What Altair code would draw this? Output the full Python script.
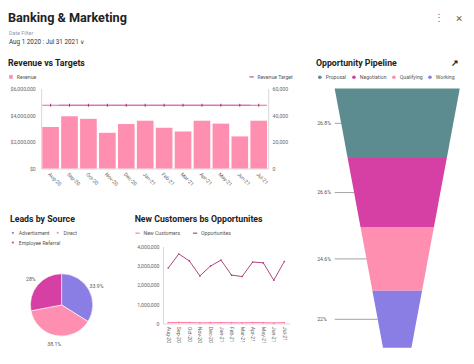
import altair as alt
import numpy as np
import pandas as pd

# ---------------- data ----------------
months = ["Aug-20", "Sep-20", "Oct-20", "Nov-20", "Dec-20", "Jan-21",
          "Feb-21", "Mar-21", "Apr-21", "May-21", "Jun-21", "Jul-21"]
revenue = [3120000, 3930000, 3730000, 2680000, 3340000, 3590000,
           3070000, 2780000, 3590000, 3370000, 2410000, 3590000]
revenue_target = [47500, 47500, 47500, 47500, 47500, 47500,
                  47500, 47500, 47500, 47500, 47500, 47500]
new_customers = [45000, 52000, 50000, 35000, 42000, 46000,
                 40000, 36000, 47000, 44000, 28000, 50000]
opportunities = [2880000, 3610000, 3250000, 2470000, 2980000, 3290000,
                 2510000, 2440000, 3190000, 3150000, 2250000, 3220000]
lead_sources = ["Advertisment", "Direct", "Employee Referral"]
lead_share = [33.9, 38.1, 28.0]
lead_labels = ["33.9%", "38.1%", "28%"]
stages = ["Proposal", "Negotiation", "Qualifying", "Working"]
stage_share = [26.8, 26.6, 24.6, 22.0]
stage_labels = ["26.8%", "26.6%", "24.6%", "22%"]

# ---------------- style ----------------
FONT = "Roboto"
PINK = "#ff8fb1"
TARGET = "#d86aa6"
TARGET_MARK = "#9c2d6a"
NC = "#ff7aa8"
OPP = "#b2407f"
PURPLE = "#8a7de3"
MAGENTA = "#d63fa3"
TEAL = "#5c8b90"
LBL = 5.3

# ---------------- header ----------------
hdr = pd.DataFrame({"k": [0]})


def htext(text, x, y, size, color, weight="normal", align="left", baseline="alphabetic"):
    return alt.Chart(hdr).mark_text(text=text, fontSize=size, color=color, fontWeight=weight,
                                    align=align, baseline=baseline).encode(
        x=alt.value(x), y=alt.value(y))


header = alt.layer(
    htext("Banking & Marketing", -34, -1, 13, "#222", "bold"),
    htext("Date Filter", -33, 12, 5.5, "#9a9a9a"),
    htext("Aug 1 2020 : Jul 31 2021 \u2228", -33, 21, 6.5, "#333"),
    htext("\u22ee", 408, -5, 10, "#666", align="center", baseline="middle"),
    htext("\u00d7", 429, -5, 12, "#666", align="center", baseline="middle"),
).properties(width=380, height=28)

# ---------------- revenue vs targets ----------------
rev_df = pd.DataFrame({"month": months, "revenue": revenue, "target": revenue_target})
rev_df["s_rev"] = "Revenue"
rev_df["s_tgt"] = "Revenue Target"

rev_scale = alt.Scale(paddingInner=0.12, paddingOuter=0.06)
rev_xaxis = alt.Axis(labelAngle=45, labelPadding=3)


def xrev(bp=None):
    if bp is None:
        return alt.X("month:N", sort=months, title=None, scale=rev_scale, axis=rev_xaxis)
    return alt.X("month:N", sort=months, title=None, scale=rev_scale, axis=rev_xaxis, bandPosition=bp)


tgt_y = alt.Y("target:Q", title=None, scale=alt.Scale(domain=[0, 60000]),
              axis=alt.Axis(orient="right", values=[0, 20000, 40000, 60000], format=",.0f"))
tgt_stroke = alt.Stroke("s_tgt:N", scale=alt.Scale(domain=["Revenue Target"], range=[TARGET]),
                        legend=alt.Legend(title=None, legendX=213, legendY=-15, symbolType="stroke",
                                          symbolStrokeWidth=1.5, symbolSize=20))

bars = alt.Chart(rev_df).mark_bar().encode(
    x=xrev(),
    y=alt.Y("revenue:Q", title=None, scale=alt.Scale(domain=[0, 6000000]),
            axis=alt.Axis(values=[0, 2000000, 4000000, 6000000], format="$,.0f", labelPadding=6)),
    fill=alt.Fill("s_rev:N", scale=alt.Scale(domain=["Revenue"], range=[PINK]),
                  legend=alt.Legend(title=None, legendX=-34, legendY=-15, symbolType="square",
                                    symbolSize=14)),
)
line0 = alt.Chart(rev_df).mark_line(strokeWidth=1).encode(x=xrev(0), y=tgt_y, stroke=tgt_stroke)
line1 = alt.Chart(rev_df).mark_line(strokeWidth=1).encode(x=xrev(1), y=tgt_y, stroke=tgt_stroke)
tmarks = alt.Chart(rev_df).mark_point(shape="M0,-1L0,1", size=9, strokeWidth=1, color=TARGET_MARK,
                                      filled=False, opacity=1).encode(x=xrev(0.5), y=tgt_y)

revenue_chart = alt.layer(bars, alt.layer(line0, line1, tmarks)).resolve_scale(
    y="independent").properties(width=233, height=82, title="Revenue vs Targets")

# ---------------- leads by source ----------------
pie_df = pd.DataFrame({"source": lead_sources, "share": lead_share, "label": lead_labels})
arc = alt.Chart(pie_df).mark_arc(outerRadius=32, stroke="white", strokeWidth=0.6).encode(
    theta=alt.Theta("share:Q", stack=True),
    color=alt.Color("source:N", scale=alt.Scale(domain=lead_sources, range=[PURPLE, PINK, MAGENTA]),
                    legend=alt.Legend(title=None, legendX=-32, legendY=-17, columns=2, gridAlign="none",
                                      direction="horizontal", symbolType="circle", rowPadding=0,
                                      columnPadding=-8)),
    order=alt.Order("source:N"),
)
ptxt = alt.Chart(pie_df).mark_text(radius=41, fontSize=LBL, color="#555").encode(
    theta=alt.Theta("share:Q", stack=True), text="label:N", order=alt.Order("source:N"))
pie_chart = alt.layer(arc, ptxt).properties(width=42, height=120, title="Leads by Source")

# ---------------- new customers vs opportunities ----------------
series = ["New Customers", "Opportunites"]
lc_df = pd.DataFrame({"month": months * 2,
                      "series": [series[0]] * len(months) + [series[1]] * len(months),
                      "value": new_customers + opportunities})
line_chart = alt.Chart(lc_df).mark_line(strokeWidth=1, point=alt.OverlayMarkDef(size=3, filled=True)).encode(
    x=alt.X("month:N", sort=months, title=None, scale=alt.Scale(padding=0.5),
            axis=alt.Axis(labelAngle=90, labelPadding=3)),
    y=alt.Y("value:Q", title=None, scale=alt.Scale(domain=[0, 4000000]),
            axis=alt.Axis(values=[0, 1000000, 2000000, 3000000, 4000000], format=",.0f")),
    color=alt.Color("series:N", scale=alt.Scale(domain=series, range=[NC, OPP]),
                    legend=alt.Legend(title=None, legendX=-29, legendY=-17, direction="horizontal",
                                      symbolType="stroke", symbolStrokeWidth=1.2, symbolSize=20)),
).properties(width=130, height=79, title="New Customers bs Opportunites")

# ---------------- opportunity pipeline (funnel) ----------------
cum = np.concatenate([[0.0], np.cumsum(stage_share)])
total = float(cum[-1])
NECK = 0.227


def halfw(c):
    return 1 - (1 - NECK) * c / total


rows = []
for i, s in enumerate(stages):
    for c in (cum[i], cum[i + 1]):
        rows.append({"stage": s, "c": float(c), "lo": -halfw(c), "hi": halfw(c)})
fun_df = pd.DataFrame(rows)
lab_df = pd.DataFrame({"stage": stages, "label": stage_labels, "mid": (cum[:-1] + cum[1:]) / 2})
lab_df["edge"] = -halfw(lab_df["mid"])
lab_df["lx"] = -1.28
lab_df["rx"] = -1.0

fx = alt.Scale(domain=[-1.3, 1.1])
fy = alt.Scale(domain=[0, total], reverse=True)
farea = alt.Chart(fun_df).mark_area(orient="horizontal").encode(
    y=alt.Y("c:Q", scale=fy, axis=None),
    x=alt.X("lo:Q", scale=fx, axis=None),
    x2="hi:Q",
    color=alt.Color("stage:N", scale=alt.Scale(domain=stages, range=[TEAL, MAGENTA, PINK, PURPLE]),
                    legend=alt.Legend(title=None, legendX=1, legendY=-15, direction="horizontal",
                                      symbolType="circle", columnPadding=4)),
)
frules = alt.Chart(lab_df).mark_rule(color="#888", strokeWidth=0.8).encode(
    y=alt.Y("mid:Q", scale=fy, axis=None), x=alt.X("rx:Q", scale=fx, axis=None), x2="edge:Q")
ftext = alt.Chart(lab_df).mark_text(align="left", baseline="middle", fontSize=LBL, color="#555").encode(
    y=alt.Y("mid:Q", scale=fy, axis=None), x=alt.X("lx:Q", scale=fx, axis=None), text="label:N")
funnel_chart = alt.layer(farea, frules, ftext).properties(
    width=154, height=266, title="Opportunity Pipeline" + "\u00a0" * 25 + "\u2197")

# ---------------- layout ----------------
bottom = alt.hconcat(pie_chart, line_chart, spacing=32).resolve_scale(color="independent")
left = alt.vconcat(revenue_chart, bottom, spacing=28).resolve_scale(
    fill="independent", stroke="independent")
body = alt.hconcat(left, funnel_chart, spacing=23).resolve_scale(
    color="independent", fill="independent", stroke="independent")
chart = alt.vconcat(header, body, spacing=9).resolve_scale(
    fill="independent", stroke="independent").properties(padding=0)

chart = chart.configure(font=FONT, background="white").configure_view(stroke=None).configure_axis(
    labelFontSize=LBL, labelColor="#666", domainColor="#d6d6d6", ticks=False, grid=False, labelPadding=4
).configure_title(fontSize=9, fontWeight="bold", anchor="start", color="#222", offset=6
).configure_legend(orient="none", labelFontSize=LBL, labelColor="#555", symbolSize=14, labelOffset=3)

chart.save("out.html", embed_options={"renderer": "svg", "actions": False})
